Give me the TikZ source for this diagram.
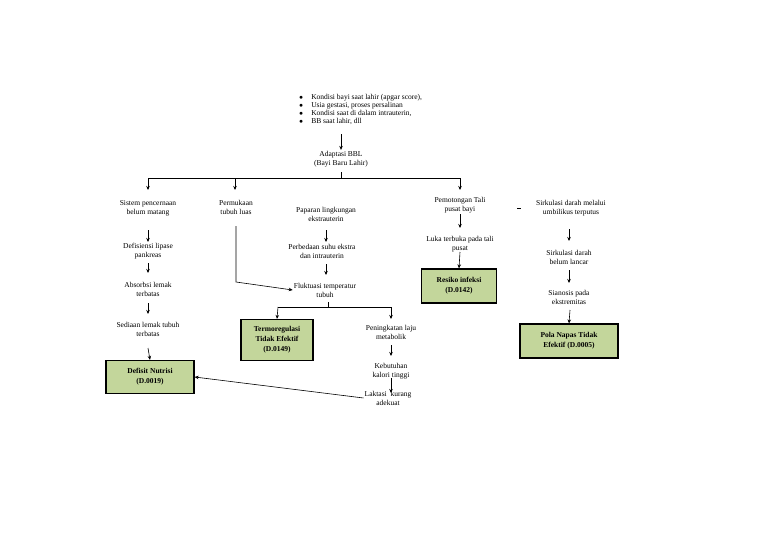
\documentclass[tikz,border=0pt]{standalone}
\usepackage{fontspec}
\setmainfont{Liberation Serif}
\usetikzlibrary{positioning,arrows.meta}
\definecolor{dxgreen}{HTML}{C3D69B}
\tikzset{
  txt/.style={align=center, font=\fontsize{7.5}{9}\selectfont, inner sep=1pt},
  dxbox/.style={draw, line width=1.2pt, fill=dxgreen, align=center, font=\fontsize{7.5}{10}\selectfont\bfseries},
  arr/.style={-{Stealth[length=4pt,width=3.5pt]}, line width=0.6pt}
}
\begin{document}
\begin{tikzpicture}[x=1pt,y=-1pt]
    \useasboundingbox (0,0) rectangle (768,543);
    % Causes
    \node[txt, align=left, anchor=west] (kondisi) at (298,110) {%
      \begin{tabular}{@{}l@{\hspace{8pt}}l@{}}
      $\bullet$ & Kondisi bayi saat lahir (apgar score),\\[-1pt]
      $\bullet$ & Usia gestasi, proses persalinan\\[-1pt]
      $\bullet$ & Kondisi saat di dalam intrauterin,\\[-1pt]
      $\bullet$ & BB saat lahir, dll
      \end{tabular}};
    \node[txt] (bbl) at (341,159) {Adaptasi BBL\\(Bayi Baru Lahir)};
    \draw[arr] (341,134) -- (bbl.north);

    % Branches
    \node[txt] (sistem) at (148,208) {Sistem pencernaan\\belum matang};
    \node[txt] (permukaan) at (236,207) {Permukaan\\tubuh luas};
    \node[txt] (paparan) at (326,214) {Paparan lingkungan\\ekstrauterin};
    \node[txt] (potong) at (460,205) {Pemotongan Tali\\pusat bayi};
    \node[txt] (sirk) at (571,208) {Sirkulasi darah melalui\\umbilikus terputus};
    \draw[line width=0.6pt] (517,208) -- (521,208);
    \draw[line width=0.6pt] (341,172) -- (341,178);
    \draw[line width=0.6pt] (148,178) -- (460,178);
    \foreach \xx in {148,235,460} \draw[arr] (\xx,178) -- (\xx,190);

    % Nutrisi chain
    \node[txt] (lipase) at (148,251) {Defisiensi lipase\\pankreas};
    \node[txt] (absorbsi) at (148,289) {Absorbsi lemak\\terbatas};
    \node[txt] (sediaan) at (148,329) {Sediaan lemak tubuh\\terbatas};
    \node[dxbox, minimum width=88pt, minimum height=33pt] (nutrisi) at (150,377) {Defisit Nutrisi\\(D.0019)};
    \draw[arr] (148,230) -- (148,242);
    \draw[arr] (148,263) -- (148,273);
    \draw[arr] (148,303) -- (148,314);
    \draw[arr] (148,348) -- (nutrisi.north);

    % Temperature chain
    \node[txt] (perbedaan) at (322,251) {Perbedaan suhu ekstra\\dan intrauterin};
    \node[txt] (fluktuasi) at (325,290) {Fluktuasi temperatur\\tubuh};
    \draw[arr] (326,230) -- (326,242);
    \draw[arr] (326,264) -- (326,275);
    \draw[arr] (236,226) -- (236,282) -- (fluktuasi.west);
    \draw[line width=0.6pt] (328,302) -- (328,307);
    \draw[line width=0.6pt] (278,307) -- (391,307);
    \node[dxbox, minimum width=72pt, minimum height=41pt] (termo) at (277,340) {Termoregulasi\\Tidak Efektif\\(D.0149)};
    \node[txt] (metabolik) at (391,332) {Peningkatan laju\\metabolik};
    \draw[arr] (278,307) -- (termo.north);
    \draw[arr] (391,307) -- (391,319);
    \node[txt] (kalori) at (391,371) {Kebutuhan\\kalori tinggi};
    \node[txt] (laktasi) at (388,398) {Laktasi\ \ kurang\\adekuat};
    \draw[arr] (391,345) -- (391,356);
    \draw[arr] (391,378) -- (391,393);
    \draw[arr] (laktasi.west) -- (nutrisi.east);

    % Infection chain
    \node[txt] (luka) at (460,244) {Luka terbuka pada tali\\pusat};
    \node[dxbox, minimum width=75pt, minimum height=34pt] (infeksi) at (459,286) {Resiko infeksi\\(D.0142)};
    \draw[arr] (460,214) -- (460,228);
    \draw[arr] (460,252) -- (infeksi.north);

    % Circulation chain
    \node[txt] (lancar) at (569,257) {Sirkulasi darah\\belum lancar};
    \node[txt] (sianosis) at (569,297) {Sianosis pada\\ekstremitas};
    \node[dxbox, minimum width=98pt, minimum height=34pt] (napas) at (569,341) {Pola Napas Tidak\\Efektif (D.0005)};
    \draw[arr] (569,229) -- (569,241);
    \draw[arr] (569,270) -- (569,283);
    \draw[arr] (570,310) -- (napas.north);
\end{tikzpicture}
\end{document}
